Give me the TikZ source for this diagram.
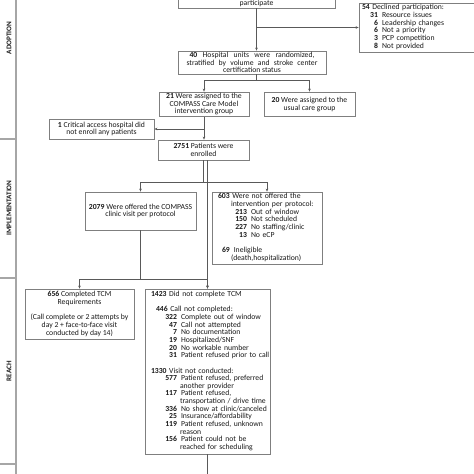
\documentclass[tikz,border=0pt]{standalone}
\usepackage{fontspec}
\setmainfont{Carlito}
\usepackage{xcolor}
\usepackage{tikz}
\usetikzlibrary{arrows.meta}
\definecolor{boxgray}{HTML}{7F7F7F}
\definecolor{linkgray}{HTML}{595959}
\definecolor{phasegray}{HTML}{A6A6A6}
\newcommand{\nitem}[3]{\makebox[#1][r]{\bfseries #2}\hspace{4pt}#3}

\begin{document}
\begin{tikzpicture}[
  x=1pt, y=1pt,
  every node/.style={font={\fontsize{7.7}{7.65}\selectfont\lineskiplimit=-5pt}, text=black!90},
  box/.style={
    rectangle, draw=boxgray, line width=0.8pt, fill=white,
    align=center, inner xsep=2pt, inner ysep=1pt,
  },
  listbox/.style={box, align=left},
  edge/.style={-{Stealth[length=3pt,width=2.6pt]}, line width=0.6pt, draw=linkgray},
  link/.style={line width=0.6pt, draw=linkgray},
  phase/.style={line width=1.2pt, draw=phasegray},
  phaselabel/.style={font=\fontsize{7.2}{8}\selectfont\bfseries, rotate=90},
]
\useasboundingbox (0,0) rectangle (474,474);
\clip (0,0) rectangle (474,474);

% phase column
\draw[phase] (16,480) -- (16,-5);
\draw[phase] (-2,335) -- (16,335);
\draw[phase] (-2,196) -- (16,196);
\draw[phase] (-2,10) -- (16,10);
\node[phaselabel] (adoption) at (9,436) {ADOPTION};
\node[phaselabel] (implementation) at (9,266) {IMPLEMENTATION};
\node[phaselabel] (reach) at (9,103) {REACH};

% adoption
\node[box, anchor=south, minimum width=157pt, text height=24pt, text depth=2pt, inner ysep=1pt] (invited) at (256.5,465.5) {participate};

\node[listbox, minimum width=115pt, minimum height=49pt, text width=109pt, inner xsep=3pt] (declined) at (416.5,446.5) {%
  \begin{tabular}{@{}l@{}}
  \textbf{54} Declined participation:\\
  \nitem{16pt}{31}{Resource issues}\\
  \nitem{16pt}{6}{Leadership changes}\\
  \nitem{16pt}{6}{Not a priority}\\
  \nitem{16pt}{3}{PCP competition}\\
  \nitem{16pt}{8}{Not provided}
  \end{tabular}};

\node[box, minimum width=148pt, minimum height=23pt] (randomized) at (252,411.5) {%
  \makebox[125pt][s]{\textbf{40} Hospital units were randomized,}\\
  \makebox[131pt][s]{stratified by volume and stroke center}\\
  certification status};

\node[box, minimum width=90pt, minimum height=24.5pt] (compass) at (204,369.75) {%
  \textbf{21} Were assigned to the\\
  COMPASS Care Model\\
  intervention group};

\node[box, minimum width=91pt, minimum height=24.5pt] (usualcare) at (309.5,369.75) {%
  \textbf{20} Were assigned to the\\
  usual care group};

\node[box, minimum width=105pt, minimum height=20pt] (critical) at (101.5,345) {%
  \textbf{1} Critical access hospital did\\
  not enroll any patients};

% implementation
\node[box, minimum width=91pt, minimum height=20pt] (enrolled) at (203.5,324) {%
  \textbf{2751} Patients were\\
  enrolled};

\node[box, minimum width=111pt, minimum height=38pt] (offered) at (140.5,263) {%
  \textbf{2079} Were offered the COMPASS\\
  clinic visit per protocol};

\node[listbox, minimum width=110pt, minimum height=72pt, text width=98pt, inner xsep=6pt] (notoffered) at (267,246) {%
  \begin{tabular}{@{}l@{}}
  \textbf{603} Were not offered the\\
  \hspace*{13pt}intervention per protocol:\\
  \nitem{29pt}{213}{Out of window}\\
  \nitem{29pt}{150}{Not scheduled}\\
  \nitem{29pt}{227}{No staffing/clinic}\\
  \nitem{29pt}{13}{No eCP}\\
  \\
  \hspace*{4pt}\textbf{69}\hspace{4pt}Ineligible\\
  \hspace*{13pt}(death,hospitalization)
  \end{tabular}};

% reach
\node[box, minimum width=109pt, minimum height=50pt] (completed) at (79.5,160) {%
  \textbf{656} Completed TCM\\
  Requirements\\[7.65pt]
  (Call complete or 2 attempts by\\
  day 2 + face-to-face visit\\
  conducted by day 14)};

\node[listbox, minimum width=125pt, minimum height=165pt, text width=113pt, inner xsep=6pt] (notcompleted) at (207.5,102.5) {%
  \begin{tabular}{@{}l@{}}
  \textbf{1423} Did not complete TCM\\
  \\
  \hspace*{5pt}\textbf{446} Call not completed:\\
  \nitem{26pt}{322}{Complete out of window}\\
  \nitem{26pt}{47}{Call not attempted}\\
  \nitem{26pt}{7}{No documentation}\\
  \nitem{26pt}{19}{Hospitalized/SNF}\\
  \nitem{26pt}{20}{No workable number}\\
  \nitem{26pt}{31}{Patient refused prior to call}\\
  \\
  \textbf{1330} Visit not conducted:\\
  \nitem{26pt}{577}{Patient refused, preferred}\\
  \hspace*{29pt}another provider\\
  \nitem{26pt}{117}{Patient refused,}\\
  \hspace*{29pt}transportation / drive time\\
  \nitem{26pt}{336}{No show at clinic/canceled}\\
  \nitem{26pt}{25}{Insurance/affordability}\\
  \nitem{26pt}{119}{Patient refused, unknown}\\
  \hspace*{29pt}reason\\
  \nitem{26pt}{156}{Patient could not be}\\
  \hspace*{29pt}reached for scheduling
  \end{tabular}};

% connectors
\draw[edge] (invited.south) -- (invited.south |- randomized.north);
\draw[edge] (invited.south |- declined.west) -- (declined.west);
\draw[link] (randomized.south -| invited.south) -- ++(0,-6) coordinate (split1);
\draw[edge] (split1) -| (compass.north);
\draw[edge] (split1) -| (usualcare.north);
\draw[edge] (compass.south) -- (compass.south |- enrolled.north);
\draw[edge] (compass.south |- critical.east) -- (critical.east);
\draw[edge] (enrolled.south -| notcompleted.north) -- (notcompleted.north);
\draw[link] (enrolled.south) -- ++(0,-22) coordinate (split2);
\draw[edge] (split2) -| (offered.north);
\draw[edge] (split2) -| (notoffered.north);
\draw[link] (offered.south) -- ++(0,-49) coordinate (split3);
\draw[edge] (split3) -| (completed.north);
\draw[edge] (split3) -| (notcompleted.north);
\draw[link] (notcompleted.south) -- ++(0,-30) coordinate (tail);
\end{tikzpicture}
\end{document}
